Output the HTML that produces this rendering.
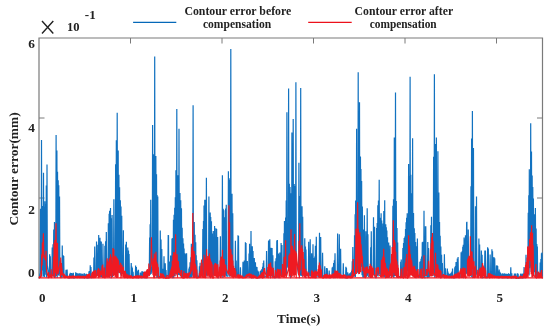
<!DOCTYPE html>
<html><head><meta charset="utf-8"><title>Contour error</title>
<style>html,body{margin:0;padding:0;background:#fff}svg{display:block}</style></head>
<body>
<svg width="550" height="331" viewBox="0 0 550 331">
<rect width="550" height="331" fill="#fff"/>
<g stroke="#7a7a7a" stroke-width="1.2" fill="none">
<path d="M39,278.4 L39,38 L542.5,38 L542.5,278.4"/>
</g><g stroke="#7a7a7a" stroke-width="1" fill="none">
<line x1="130.5" y1="38" x2="130.5" y2="43.5"/>
<line x1="222.0" y1="38" x2="222.0" y2="43.5"/>
<line x1="313.5" y1="38" x2="313.5" y2="43.5"/>
<line x1="405.0" y1="38" x2="405.0" y2="43.5"/>
<line x1="496.5" y1="38" x2="496.5" y2="43.5"/>
<line x1="39" y1="198.0" x2="44.5" y2="198.0"/>
<line x1="542.5" y1="198.0" x2="537" y2="198.0"/>
<line x1="39" y1="118.0" x2="44.5" y2="118.0"/>
<line x1="542.5" y1="118.0" x2="537" y2="118.0"/>
</g>
<path d="M39.50,278.30 L39.50,277.80 L39.80,273.45 L40.12,277.77 L40.20,273.05 L40.52,208.80 L40.84,273.67 L41.18,267.94 L41.50,140.10 L41.82,264.12 L42.25,270.48 L42.57,206.04 L42.89,273.28 L43.18,276.84 L43.50,172.70 L43.82,275.42 L43.99,276.11 L44.31,206.83 L44.63,277.10 L44.63,270.42 L44.91,201.14 L45.23,272.68 L45.25,274.82 L45.57,203.92 L45.89,272.30 L45.96,271.13 L46.28,185.48 L46.60,277.61 L46.68,268.05 L47.00,164.50 L47.32,265.35 L49.33,277.68 L49.65,254.35 L49.97,275.86 L50.00,277.43 L50.32,256.30 L50.64,275.88 L51.89,274.70 L52.21,247.44 L52.53,275.75 L52.68,273.86 L53.00,244.26 L53.32,276.68 L53.39,274.05 L53.71,229.60 L54.03,275.70 L54.16,274.28 L54.48,221.94 L54.80,278.05 L55.78,274.86 L56.10,135.10 L56.42,264.75 L56.58,273.64 L56.90,150.43 L57.22,277.97 L57.22,270.03 L57.53,171.74 L57.85,274.13 L57.87,271.75 L58.19,180.29 L58.51,272.43 L58.51,275.22 L58.78,185.34 L59.10,274.74 L59.21,275.84 L59.53,196.47 L59.85,272.41 L61.94,277.97 L62.26,245.60 L62.58,273.81 L62.66,275.52 L62.98,255.13 L63.30,275.71 L63.40,277.00 L63.72,256.02 L64.04,277.10 L65.67,277.73 L65.99,269.82 L66.31,277.41 L66.31,277.49 L66.58,270.59 L66.90,277.59 L66.90,277.49 L67.12,269.58 L67.44,277.47 L69.42,278.12 L69.74,273.89 L70.06,278.16 L70.06,278.06 L70.32,272.69 L70.64,277.70 L70.64,277.77 L70.83,273.53 L71.15,278.00 L71.15,278.23 L71.38,272.94 L71.70,278.06 L71.77,277.80 L72.09,273.40 L72.41,277.94 L72.41,277.99 L72.71,274.09 L73.03,278.24 L73.03,277.99 L73.33,272.89 L73.65,278.17 L75.42,277.77 L75.74,272.28 L76.06,277.78 L76.07,277.72 L76.39,272.97 L76.71,278.01 L76.75,277.88 L77.07,274.56 L77.39,277.93 L77.39,277.98 L77.61,273.35 L77.93,277.75 L78.03,277.78 L78.35,273.59 L78.67,277.75 L78.67,277.89 L78.90,273.62 L79.22,277.76 L79.22,277.77 L79.51,273.33 L79.83,278.19 L79.90,277.90 L80.22,274.78 L80.54,278.09 L80.59,277.92 L80.91,273.39 L81.23,277.79 L81.23,277.92 L81.52,274.70 L81.84,277.73 L81.96,278.18 L82.28,274.12 L82.60,278.04 L82.75,277.70 L83.07,273.64 L83.39,278.07 L83.44,277.99 L83.76,275.19 L84.08,278.20 L84.23,278.08 L84.55,273.33 L84.87,278.23 L84.90,278.05 L85.22,274.23 L85.54,277.71 L85.54,278.21 L85.79,275.01 L86.11,278.06 L86.14,277.96 L86.46,273.86 L86.78,277.83 L88.67,277.90 L88.99,271.29 L89.31,278.05 L89.33,278.27 L89.65,271.04 L89.97,277.26 L89.97,277.21 L90.25,265.36 L90.57,277.73 L90.62,278.05 L90.94,267.11 L91.26,277.92 L93.61,276.35 L93.93,257.58 L94.25,277.27 L94.41,277.43 L94.73,246.44 L95.05,277.74 L96.22,274.27 L96.54,241.61 L96.86,274.37 L96.93,276.07 L97.25,244.84 L97.57,274.38 L98.38,275.72 L98.70,235.00 L99.02,276.41 L99.66,273.64 L99.98,237.65 L100.30,276.35 L100.44,277.06 L100.76,241.28 L101.08,274.00 L101.08,276.91 L101.30,241.75 L101.62,274.96 L102.61,277.80 L102.93,243.80 L103.25,274.76 L104.58,275.54 L104.90,245.87 L105.22,277.16 L105.25,275.07 L105.57,241.22 L105.89,276.64 L106.00,273.39 L106.32,232.00 L106.64,275.74 L108.02,276.38 L108.34,223.16 L108.66,273.83 L108.81,275.20 L109.13,213.77 L109.45,277.27 L109.45,277.64 L109.63,210.73 L109.95,275.80 L110.18,272.03 L110.50,207.90 L110.82,273.10 L111.22,278.23 L111.54,218.20 L111.86,272.90 L111.86,276.44 L112.09,215.04 L112.41,276.89 L113.55,270.23 L113.87,199.35 L114.19,268.91 L115.31,273.10 L115.63,164.32 L115.95,266.62 L116.02,264.24 L116.34,140.27 L116.66,269.97 L116.88,266.58 L117.20,112.80 L117.52,262.66 L117.88,270.05 L118.20,150.55 L118.52,272.68 L118.60,265.83 L118.92,174.78 L119.24,273.19 L119.27,269.47 L119.59,187.30 L119.91,271.09 L120.03,271.64 L120.35,200.17 L120.67,274.40 L120.68,274.39 L121.00,206.51 L121.32,275.40 L121.43,271.23 L121.75,215.72 L122.07,273.03 L123.05,273.53 L123.37,230.31 L123.69,274.84 L125.38,273.85 L125.70,244.46 L126.02,274.17 L126.05,277.13 L126.37,241.87 L126.69,277.98 L126.85,277.35 L127.17,254.00 L127.49,275.63 L127.49,277.51 L127.78,247.40 L128.10,276.42 L128.19,276.99 L128.51,250.56 L128.83,276.49 L128.83,276.59 L129.09,254.08 L129.41,276.65 L130.92,276.91 L131.24,262.90 L131.56,276.94 L131.56,277.32 L131.81,266.62 L132.13,277.68 L132.13,276.89 L132.33,267.82 L132.65,277.40 L132.75,277.76 L133.07,271.71 L133.39,277.39 L135.31,277.12 L135.63,265.46 L135.95,277.50 L136.08,277.93 L136.40,267.06 L136.72,277.58 L136.72,278.24 L136.92,270.58 L137.24,277.63 L137.33,277.57 L137.65,271.37 L137.97,277.26 L138.11,278.02 L138.43,269.78 L138.75,277.36 L140.07,277.76 L140.39,272.60 L140.71,277.55 L140.85,277.45 L141.17,273.32 L141.49,277.43 L141.52,278.24 L141.84,271.36 L142.16,278.24 L142.21,277.48 L142.53,271.30 L142.85,278.22 L142.86,277.72 L143.18,273.30 L143.50,277.89 L143.52,278.00 L143.84,271.78 L144.16,278.09 L144.30,277.69 L144.62,273.57 L144.94,278.28 L145.09,278.06 L145.41,271.88 L145.73,278.27 L145.73,277.61 L145.94,273.13 L146.26,278.00 L146.28,278.00 L146.60,272.53 L146.92,278.01 L149.30,272.30 L149.62,237.51 L149.94,275.08 L149.94,271.38 L150.12,224.35 L150.44,274.26 L150.44,271.41 L150.72,199.68 L151.04,273.88 L152.28,267.17 L152.60,125.10 L152.92,260.09 L153.22,272.97 L153.54,154.28 L153.86,276.88 L154.38,273.38 L154.70,56.40 L155.02,264.27 L155.53,266.26 L155.85,156.03 L156.17,264.26 L156.20,267.48 L156.52,174.16 L156.84,266.26 L156.84,277.88 L157.10,194.96 L157.42,277.66 L157.46,275.23 L157.78,196.60 L158.10,277.75 L159.95,276.19 L160.27,230.46 L160.59,272.64 L160.69,276.90 L161.01,239.57 L161.33,275.76 L161.46,277.84 L161.78,248.92 L162.10,275.19 L162.10,277.09 L162.34,269.65 L162.66,277.02 L162.70,277.75 L163.02,268.85 L163.34,278.18 L163.68,277.70 L164.00,256.30 L164.32,275.74 L164.93,276.59 L165.25,263.29 L165.57,276.62 L165.71,278.07 L166.03,269.96 L166.35,277.01 L167.88,275.02 L168.20,235.00 L168.52,277.21 L168.52,276.52 L168.52,235.30 L168.72,277.47 L169.56,278.11 L169.88,261.44 L170.20,277.93 L170.31,276.36 L170.63,255.44 L170.95,276.69 L171.00,277.44 L171.32,256.11 L171.64,276.08 L171.68,275.82 L172.00,238.39 L172.32,274.16 L172.43,278.24 L172.75,238.05 L173.07,276.73 L173.14,277.96 L173.46,219.79 L173.78,278.23 L173.78,277.93 L174.06,214.78 L174.38,276.05 L174.38,275.61 L174.70,207.81 L175.02,275.84 L175.02,274.41 L175.32,197.25 L175.64,271.11 L175.64,269.81 L175.91,170.23 L176.23,273.56 L176.48,272.47 L176.80,109.00 L177.12,275.59 L177.56,267.36 L177.88,175.20 L178.20,265.55 L178.68,274.97 L179.00,128.80 L179.32,261.56 L179.65,275.11 L179.97,192.91 L180.29,275.21 L180.40,276.47 L180.72,200.20 L181.04,273.94 L181.14,270.23 L181.46,208.14 L181.78,274.10 L181.86,273.51 L182.18,227.68 L182.50,274.70 L182.60,277.42 L182.92,238.35 L183.24,274.42 L183.24,276.20 L183.55,243.42 L183.87,278.01 L183.87,276.46 L184.08,248.39 L184.40,275.11 L184.40,277.08 L184.60,253.21 L184.92,277.55 L184.92,274.93 L185.15,254.67 L185.47,277.70 L185.60,277.42 L185.92,253.46 L186.24,278.08 L186.27,275.46 L186.59,253.35 L186.91,275.60 L188.57,277.11 L188.89,268.40 L189.21,277.24 L189.21,277.59 L189.45,266.77 L189.77,277.34 L189.77,278.27 L190.05,262.30 L190.37,277.78 L190.50,276.61 L190.82,257.38 L191.14,276.92 L191.14,274.91 L191.35,243.76 L191.67,277.67 L192.78,273.22 L193.10,105.30 L193.42,272.23 L193.95,277.70 L194.27,221.98 L194.59,272.33 L194.70,274.71 L195.02,234.78 L195.34,277.67 L195.39,275.89 L195.71,242.26 L196.03,274.38 L196.03,277.08 L196.24,255.31 L196.56,278.20 L196.56,276.06 L196.88,260.35 L197.20,275.88 L199.09,276.86 L199.41,266.21 L199.73,276.70 L199.79,277.16 L200.11,262.86 L200.43,277.26 L202.52,273.72 L202.84,229.05 L203.16,274.81 L203.17,274.29 L203.49,220.97 L203.81,271.76 L203.81,276.71 L204.00,205.49 L204.32,269.65 L204.44,275.66 L204.76,199.84 L205.08,272.40 L205.10,277.45 L205.42,199.85 L205.74,277.42 L206.08,270.83 L206.40,177.80 L206.72,275.59 L208.58,270.80 L208.90,196.60 L209.22,272.73 L209.90,277.37 L210.22,212.60 L210.54,277.57 L210.54,275.01 L210.73,216.94 L211.05,277.60 L211.13,273.50 L211.45,221.25 L211.77,276.95 L211.77,272.07 L212.03,233.60 L212.35,271.99 L212.35,275.86 L212.63,235.31 L212.95,273.83 L212.95,276.45 L213.27,230.95 L213.59,274.74 L214.28,274.57 L214.60,226.00 L214.92,272.79 L215.64,273.57 L215.96,228.20 L216.28,272.49 L216.31,275.48 L216.63,228.88 L216.95,274.40 L216.95,277.25 L217.17,239.55 L217.49,273.42 L217.49,273.63 L217.67,236.93 L217.99,278.16 L220.07,273.34 L220.39,236.37 L220.71,275.22 L222.08,273.13 L222.40,175.20 L222.72,276.21 L222.93,277.97 L223.25,208.65 L223.57,275.48 L223.57,273.19 L223.81,210.17 L224.13,272.83 L224.16,270.75 L224.48,219.53 L224.80,272.93 L224.80,275.15 L225.04,217.32 L225.36,270.65 L225.36,270.74 L225.62,208.54 L225.94,275.67 L225.94,271.93 L226.26,204.67 L226.58,276.09 L228.08,276.15 L228.40,171.30 L228.72,271.77 L229.04,269.53 L229.36,180.01 L229.68,276.79 L229.68,272.00 L229.87,178.15 L230.19,265.87 L230.48,263.08 L230.80,49.10 L231.12,275.97 L231.69,269.54 L232.01,193.66 L232.33,271.06 L232.43,275.36 L232.75,213.25 L233.07,273.58 L235.09,275.22 L235.41,240.64 L235.73,277.10 L235.88,277.72 L236.20,260.62 L236.52,276.34 L237.68,273.21 L238.00,235.30 L238.32,277.96 L238.32,274.68 L238.50,236.00 L238.82,276.62 L240.12,277.89 L240.44,267.15 L240.76,277.25 L242.67,277.67 L242.99,261.85 L243.31,276.37 L243.38,276.77 L243.70,263.81 L244.02,277.77 L244.02,276.04 L244.30,260.42 L244.62,276.04 L245.08,277.39 L245.40,242.30 L245.72,274.71 L245.72,277.29 L246.00,243.10 L246.32,275.63 L247.02,276.39 L247.34,260.93 L247.66,277.30 L248.72,274.96 L249.04,253.41 L249.36,276.13 L249.36,277.76 L249.57,243.71 L249.89,277.86 L250.68,277.32 L251.00,231.00 L251.32,277.58 L251.99,278.12 L252.31,246.38 L252.63,277.17 L252.71,274.17 L253.03,251.06 L253.35,275.73 L253.35,278.17 L253.66,261.17 L253.98,275.49 L253.99,276.24 L254.31,257.92 L254.63,276.21 L254.63,277.29 L254.93,264.82 L255.25,276.25 L255.25,276.43 L255.44,262.27 L255.76,277.06 L255.76,278.24 L255.98,268.38 L256.30,276.99 L256.30,277.50 L256.48,266.67 L256.80,277.88 L256.80,277.94 L256.98,266.97 L257.30,277.98 L257.43,277.66 L257.75,270.41 L258.07,278.19 L258.21,277.71 L258.53,271.42 L258.85,277.49 L260.04,277.90 L260.36,271.05 L260.68,277.32 L260.73,277.39 L261.05,270.19 L261.37,277.39 L261.53,278.04 L261.85,269.01 L262.17,277.55 L262.25,277.15 L262.57,266.66 L262.89,277.94 L262.89,276.52 L263.19,262.89 L263.51,276.55 L263.51,276.22 L263.74,260.63 L264.06,277.45 L266.24,276.34 L266.56,250.89 L266.88,276.97 L268.23,273.81 L268.55,240.59 L268.87,276.19 L269.48,274.86 L269.80,239.30 L270.12,275.30 L270.61,278.08 L270.93,247.72 L271.25,274.25 L271.27,276.06 L271.59,253.12 L271.91,274.39 L271.91,276.03 L272.09,248.06 L272.41,276.80 L272.54,277.32 L272.86,255.21 L273.18,275.64 L274.92,278.21 L275.24,261.33 L275.56,278.20 L275.68,277.34 L276.00,258.33 L276.32,275.97 L276.48,277.80 L276.80,240.50 L277.12,275.36 L277.12,275.87 L277.40,239.90 L277.72,276.67 L278.17,277.63 L278.49,253.63 L278.81,278.17 L278.95,276.12 L279.27,255.45 L279.59,276.82 L279.59,277.89 L279.84,252.63 L280.16,274.80 L280.78,274.72 L281.10,243.10 L281.42,275.52 L281.62,276.53 L281.94,244.96 L282.26,276.25 L283.57,272.51 L283.89,233.20 L284.21,275.10 L284.21,271.79 L284.44,220.97 L284.76,271.24 L284.76,272.73 L285.06,222.16 L285.38,275.68 L285.38,271.18 L285.62,217.47 L285.94,273.60 L285.94,269.56 L286.19,200.40 L286.51,269.99 L286.58,275.70 L286.90,112.30 L287.22,267.62 L288.28,257.78 L288.60,88.50 L288.92,260.74 L289.04,266.93 L289.36,183.79 L289.68,275.38 L289.72,267.65 L290.04,186.91 L290.36,269.27 L290.49,278.17 L290.81,193.16 L291.13,274.06 L291.58,274.18 L291.90,132.60 L292.22,273.13 L292.88,264.20 L293.20,119.10 L293.52,264.47 L293.86,274.04 L294.18,184.04 L294.50,271.49 L294.59,271.96 L294.91,185.89 L295.23,271.22 L295.58,268.99 L295.90,82.20 L296.22,260.14 L298.58,274.82 L298.90,162.70 L299.22,269.20 L299.41,278.26 L299.73,195.95 L300.05,270.41 L300.38,275.81 L300.70,88.00 L301.02,265.88 L301.73,276.05 L302.05,206.25 L302.37,269.83 L302.37,276.43 L302.69,216.71 L303.01,272.10 L304.44,275.62 L304.76,238.37 L305.08,277.84 L305.15,277.21 L305.47,246.47 L305.79,275.49 L305.79,276.13 L306.00,249.54 L306.32,275.58 L308.38,274.74 L308.70,241.80 L309.02,274.76 L309.88,275.40 L310.20,239.30 L310.52,276.19 L311.31,275.45 L311.63,253.17 L311.95,276.01 L312.68,277.55 L313.00,244.30 L313.32,275.99 L313.95,277.80 L314.27,257.95 L314.59,275.49 L314.59,276.63 L314.83,256.60 L315.15,278.17 L315.15,274.65 L315.41,245.77 L315.73,278.13 L315.98,276.44 L316.30,236.80 L316.62,275.22 L319.18,277.22 L319.50,232.63 L319.82,272.92 L320.37,275.59 L320.69,237.02 L321.01,275.20 L322.26,276.83 L322.58,252.76 L322.90,276.75 L324.43,277.11 L324.75,266.19 L325.07,277.42 L326.20,277.61 L326.52,267.94 L326.84,277.50 L326.94,278.03 L327.26,268.20 L327.58,277.13 L328.88,277.19 L329.20,270.42 L329.52,278.05 L331.86,277.01 L332.18,267.57 L332.50,277.43 L332.53,277.58 L332.85,266.89 L333.17,277.11 L333.28,277.77 L333.60,262.91 L333.92,276.17 L334.05,278.26 L334.37,260.26 L334.69,277.64 L334.70,275.97 L335.02,253.29 L335.34,278.05 L337.28,272.93 L337.60,233.50 L337.92,276.21 L338.98,273.52 L339.30,234.30 L339.62,277.30 L340.29,275.06 L340.61,248.86 L340.93,276.02 L342.98,277.27 L343.30,263.23 L343.62,277.15 L345.55,278.00 L345.87,266.76 L346.19,278.13 L346.19,278.23 L346.43,267.78 L346.75,277.58 L346.83,277.93 L347.15,272.20 L347.47,278.22 L347.51,277.83 L347.83,272.43 L348.15,277.97 L348.23,277.68 L348.55,274.34 L348.87,277.73 L348.87,278.02 L349.18,274.39 L349.50,277.89 L349.50,277.71 L349.70,273.30 L350.02,278.20 L350.02,277.82 L350.25,274.94 L350.57,277.82 L350.57,278.13 L350.84,272.18 L351.16,277.97 L351.30,277.73 L351.62,270.74 L351.94,277.12 L351.96,276.95 L352.28,261.26 L352.60,276.16 L352.60,278.10 L352.81,247.02 L353.13,276.28 L354.21,275.43 L354.53,235.31 L354.85,276.76 L354.85,273.13 L355.11,214.28 L355.43,273.03 L355.43,276.94 L355.64,200.46 L355.96,270.09 L356.28,263.47 L356.60,128.80 L356.92,266.70 L357.88,273.23 L358.20,72.20 L358.52,271.83 L359.18,269.46 L359.50,102.30 L359.82,266.86 L360.14,271.25 L360.46,156.40 L360.78,265.63 L360.78,266.66 L360.97,169.03 L361.29,265.79 L361.32,266.57 L361.64,181.08 L361.96,270.92 L362.04,275.36 L362.36,206.44 L362.68,272.02 L362.84,277.51 L363.16,229.61 L363.48,277.54 L363.48,277.20 L363.66,232.18 L363.98,276.17 L364.08,277.97 L364.40,215.30 L364.72,276.53 L365.49,274.74 L365.81,231.31 L366.13,277.24 L366.88,273.91 L367.20,208.30 L367.52,270.37 L367.61,275.78 L367.93,234.20 L368.25,276.48 L370.38,277.21 L370.70,247.26 L371.02,277.15 L371.02,273.39 L371.27,231.18 L371.59,275.76 L373.18,274.19 L373.50,217.30 L373.82,272.91 L374.23,275.09 L374.55,226.81 L374.87,276.98 L376.26,278.08 L376.58,228.06 L376.90,271.58 L376.90,271.97 L377.18,223.01 L377.50,273.90 L377.50,275.66 L377.81,205.31 L378.13,273.55 L378.13,276.38 L378.44,200.59 L378.76,272.99 L378.88,274.24 L379.20,179.80 L379.52,269.20 L380.15,274.79 L380.47,217.71 L380.79,276.61 L380.79,276.74 L381.11,213.22 L381.43,276.17 L381.43,271.70 L381.74,220.57 L382.06,277.33 L382.06,273.14 L382.28,226.48 L382.60,272.69 L382.74,274.98 L383.06,223.44 L383.38,274.06 L383.47,273.78 L383.79,211.08 L384.11,275.67 L384.38,277.31 L384.70,200.30 L385.02,275.63 L385.42,273.53 L385.74,224.15 L386.06,272.34 L386.06,276.77 L386.30,227.35 L386.62,274.15 L386.62,278.12 L386.87,230.56 L387.19,272.94 L387.21,276.06 L387.53,237.21 L387.85,274.40 L387.90,277.95 L388.22,248.37 L388.54,277.48 L388.54,277.19 L388.72,242.61 L389.04,276.08 L389.04,274.62 L389.25,249.77 L389.57,275.73 L389.71,277.54 L390.03,245.54 L390.35,275.29 L392.55,273.53 L392.87,205.78 L393.19,271.68 L393.19,276.63 L393.50,199.33 L393.82,277.92 L393.98,275.81 L394.30,137.60 L394.62,263.92 L395.18,275.97 L395.50,92.50 L395.82,273.31 L395.98,272.03 L396.30,201.08 L396.62,276.15 L396.69,277.41 L397.01,227.96 L397.33,275.89 L397.34,276.12 L397.66,242.59 L397.98,276.35 L400.39,276.74 L400.71,261.67 L401.03,278.02 L401.03,277.63 L401.24,259.46 L401.56,277.56 L402.54,276.09 L402.86,248.09 L403.18,277.49 L403.21,276.74 L403.53,243.08 L403.85,275.06 L403.86,274.10 L404.18,237.92 L404.50,275.69 L404.57,276.91 L404.89,236.46 L405.21,277.28 L405.21,272.06 L405.51,228.90 L405.83,277.46 L405.83,272.75 L406.07,222.16 L406.39,273.69 L406.39,275.96 L406.62,217.85 L406.94,275.18 L406.94,272.23 L407.19,213.16 L407.51,271.07 L408.28,268.95 L408.60,163.90 L408.92,275.05 L409.07,267.82 L409.39,176.36 L409.71,274.18 L409.78,270.92 L410.10,76.70 L410.42,256.98 L410.49,270.39 L410.81,174.68 L411.13,274.83 L411.13,274.28 L411.42,193.19 L411.74,270.21 L412.28,275.07 L412.60,138.30 L412.92,270.21 L413.22,274.81 L413.54,212.99 L413.86,276.88 L413.97,273.23 L414.29,228.16 L414.61,276.41 L414.61,273.04 L414.85,232.90 L415.17,273.21 L415.30,275.29 L415.62,242.10 L415.94,274.13 L416.08,278.29 L416.40,246.26 L416.72,276.33 L417.08,275.62 L417.40,238.53 L417.72,274.80 L419.55,277.51 L419.87,261.86 L420.19,277.74 L420.19,277.18 L420.47,261.19 L420.79,276.82 L420.79,276.67 L421.03,258.77 L421.35,276.77 L421.35,278.29 L421.57,256.54 L421.89,277.75 L421.96,277.64 L422.28,242.33 L422.60,275.60 L422.60,275.80 L422.86,241.67 L423.18,276.70 L423.68,273.01 L424.00,210.80 L424.32,276.76 L425.08,278.26 L425.40,226.30 L425.72,273.71 L425.72,275.53 L425.80,226.30 L426.12,273.95 L427.46,278.02 L427.78,241.91 L428.10,276.62 L428.23,277.86 L428.55,248.03 L428.87,277.46 L430.52,274.10 L430.84,225.27 L431.16,273.22 L431.17,273.65 L431.49,216.65 L431.81,275.42 L433.28,275.17 L433.60,156.74 L433.92,270.17 L434.08,274.08 L434.40,74.20 L434.72,277.84 L435.21,275.23 L435.53,143.95 L435.85,267.67 L436.08,269.24 L436.40,137.60 L436.72,265.22 L437.58,272.31 L437.90,151.30 L438.22,263.22 L438.53,273.18 L438.85,192.38 L439.17,270.29 L439.22,275.64 L439.54,222.10 L439.86,274.71 L439.86,276.26 L440.18,235.80 L440.50,278.14 L440.54,277.15 L440.86,246.40 L441.18,276.10 L441.26,276.73 L441.58,254.74 L441.90,277.47 L442.04,276.74 L442.36,263.10 L442.68,277.36 L444.08,276.39 L444.40,254.30 L444.72,277.61 L445.13,277.85 L445.45,268.20 L445.77,276.55 L447.03,277.69 L447.35,268.47 L447.67,277.30 L447.67,277.55 L447.88,271.41 L448.20,277.83 L448.20,277.57 L448.39,273.29 L448.71,277.95 L448.71,278.26 L448.91,273.99 L449.23,278.07 L449.29,277.76 L449.61,273.87 L449.93,278.23 L449.93,277.97 L450.17,274.46 L450.49,277.94 L450.49,278.21 L450.77,273.31 L451.09,278.13 L451.10,277.84 L451.42,272.51 L451.74,277.70 L451.74,277.78 L451.93,271.46 L452.25,277.71 L452.25,277.84 L452.53,268.42 L452.85,277.58 L454.46,277.94 L454.78,267.16 L455.10,277.72 L455.10,277.66 L455.42,266.07 L455.74,278.21 L455.74,277.92 L456.03,262.12 L456.35,277.32 L456.38,276.37 L456.70,263.05 L457.02,276.32 L457.02,276.42 L457.30,258.57 L457.62,277.60 L457.76,277.50 L458.08,257.11 L458.40,277.17 L460.78,277.27 L461.10,252.22 L461.42,277.91 L461.42,276.57 L461.72,257.92 L462.04,275.13 L462.04,276.48 L462.23,251.10 L462.55,275.29 L462.55,276.98 L462.74,246.80 L463.06,276.03 L463.06,276.85 L463.30,244.79 L463.62,278.24 L463.77,274.26 L464.09,237.41 L464.41,273.59 L464.41,277.60 L464.73,239.57 L465.05,274.30 L465.14,274.02 L465.46,235.15 L465.78,273.43 L466.28,271.93 L466.60,222.30 L466.92,273.90 L466.92,272.50 L466.92,221.70 L467.02,273.26 L467.95,272.53 L468.27,229.45 L468.59,272.09 L470.64,273.53 L470.96,186.36 L471.28,277.29 L471.28,268.53 L471.60,138.39 L471.92,268.47 L472.08,261.74 L472.40,111.10 L472.72,277.66 L473.14,277.71 L473.46,148.06 L473.78,266.51 L475.18,272.38 L475.50,206.17 L475.82,274.85 L476.18,275.60 L476.50,196.60 L476.82,273.31 L478.58,274.94 L478.90,238.40 L479.22,274.36 L479.31,274.05 L479.63,244.63 L479.95,275.06 L481.04,275.98 L481.36,250.39 L481.68,276.37 L481.78,277.28 L482.10,254.86 L482.42,277.90 L484.53,276.97 L484.85,250.39 L485.17,275.38 L485.17,276.13 L485.41,250.50 L485.73,276.14 L487.29,278.10 L487.61,247.25 L487.93,275.32 L487.99,276.81 L488.31,248.45 L488.63,276.89 L489.82,278.01 L490.14,254.59 L490.46,276.44 L491.59,274.88 L491.91,249.31 L492.23,276.22 L492.23,277.79 L492.53,251.20 L492.85,275.87 L492.88,277.25 L493.20,257.94 L493.52,275.76 L493.63,275.73 L493.95,256.92 L494.27,276.41 L494.40,275.67 L494.72,258.32 L495.04,277.54 L496.11,276.82 L496.43,265.58 L496.75,276.62 L496.75,276.78 L497.03,265.32 L497.35,277.03 L497.36,277.39 L497.68,266.13 L498.00,277.89 L498.13,278.06 L498.45,271.37 L498.77,277.95 L498.89,277.83 L499.21,269.60 L499.53,277.72 L499.53,277.48 L499.79,271.88 L500.11,277.98 L500.14,277.67 L500.46,272.78 L500.78,277.87 L500.84,278.13 L501.16,274.27 L501.48,278.01 L501.48,278.22 L501.69,274.19 L502.01,278.28 L502.01,278.01 L502.26,273.36 L502.58,278.29 L502.61,278.24 L502.93,274.21 L503.25,278.15 L503.25,278.23 L503.45,273.79 L503.77,278.14 L503.92,277.71 L504.24,273.30 L504.56,277.93 L504.56,278.28 L504.82,273.70 L505.14,278.07 L505.14,277.74 L505.42,273.84 L505.74,278.13 L505.90,277.85 L506.22,273.67 L506.54,278.17 L506.60,277.83 L506.92,273.92 L507.24,278.24 L507.33,278.28 L507.65,274.16 L507.97,278.30 L508.10,278.01 L508.42,273.32 L508.74,277.74 L508.83,278.25 L509.15,273.75 L509.47,277.78 L509.47,278.11 L509.71,273.97 L510.03,277.72 L510.48,277.06 L510.80,267.30 L511.12,277.96 L511.47,277.93 L511.79,273.24 L512.11,277.77 L514.11,277.95 L514.43,273.64 L514.75,278.20 L514.75,277.84 L515.06,273.44 L515.38,278.21 L515.40,277.89 L515.72,273.53 L516.04,278.29 L517.20,278.13 L517.52,273.31 L517.84,278.10 L517.84,277.82 L518.13,273.68 L518.45,278.28 L520.31,277.92 L520.63,273.67 L520.95,278.21 L521.00,277.91 L521.32,274.80 L521.64,278.23 L521.75,277.85 L522.07,273.46 L522.39,278.06 L522.39,277.75 L522.58,273.74 L522.90,278.21 L522.95,278.26 L523.27,273.72 L523.59,278.22 L523.74,277.17 L524.06,267.01 L524.38,277.66 L525.69,277.72 L526.01,254.85 L526.33,277.74 L527.92,272.10 L528.24,212.66 L528.56,274.43 L528.56,271.14 L528.77,195.17 L529.09,275.60 L529.09,273.35 L529.31,169.19 L529.63,268.30 L530.38,260.85 L530.70,123.30 L531.02,262.27 L531.17,271.95 L531.49,151.50 L531.81,268.88 L531.86,273.31 L532.18,175.47 L532.50,277.00 L532.50,277.27 L532.78,186.94 L533.10,268.22 L533.10,270.88 L533.41,198.58 L533.73,273.21 L533.87,274.95 L534.19,214.27 L534.51,271.54 L535.08,271.66 L535.40,207.90 L535.72,276.99 L535.82,276.16 L536.14,228.39 L536.46,276.04 L536.50,278.11 L536.82,244.01 L537.14,275.25 L537.14,276.67 L537.34,246.40 L537.66,276.53 L539.88,277.53 L540.20,262.57 L540.52,277.94 L540.54,277.01 L540.86,258.95 L541.18,276.91 L541.18,277.60 L541.45,253.28 L541.77,277.43 L541.77,277.70 L542.08,252.63 L542.40,276.13" fill="none" stroke="#1272c0" stroke-width="1.2" stroke-linejoin="bevel"/>
<path d="M39.50,278.30 L39.50,278.21 L39.80,276.13 L40.18,277.99 L40.18,277.18 L40.36,276.76 L40.74,277.70 L40.74,277.82 L41.04,270.71 L41.42,276.75 L41.42,267.33 L41.69,254.16 L42.07,262.93 L42.07,265.54 L42.42,242.39 L42.80,258.13 L43.02,244.09 L43.40,233.30 L43.78,254.26 L45.65,260.43 L46.03,250.71 L46.41,269.69 L48.33,278.10 L48.71,272.03 L49.09,277.84 L49.09,276.26 L49.41,274.88 L49.79,276.83 L49.79,276.66 L49.98,275.13 L50.36,276.55 L50.36,276.92 L50.55,274.30 L50.93,276.20 L50.93,277.75 L51.13,269.17 L51.51,278.01 L53.15,273.88 L53.53,256.77 L53.91,276.69 L53.91,273.06 L54.11,242.77 L54.49,277.92 L54.49,276.98 L54.76,240.03 L55.14,273.34 L55.62,253.15 L56.00,223.30 L56.38,257.11 L56.38,276.33 L56.73,242.70 L57.11,271.78 L57.11,274.08 L57.46,242.93 L57.84,274.28 L59.63,265.22 L60.01,260.58 L60.39,267.21 L60.39,278.12 L60.71,257.61 L61.09,275.55 L61.09,268.27 L61.36,262.98 L61.74,267.87 L61.74,275.31 L62.04,268.73 L62.42,275.05 L62.44,275.59 L62.82,272.91 L63.20,274.61 L63.28,277.49 L63.66,274.72 L64.04,277.57 L64.04,277.79 L64.23,273.89 L64.61,278.00 L64.66,278.11 L65.04,275.06 L65.42,277.75 L65.42,277.83 L65.60,276.26 L65.98,277.92 L65.98,276.77 L66.17,276.03 L66.55,277.42 L66.63,276.69 L67.01,276.12 L67.39,277.44 L67.39,278.26 L67.74,276.31 L68.12,278.25 L68.12,278.26 L68.34,276.54 L68.72,278.02 L68.72,276.39 L69.05,275.67 L69.43,276.64 L69.43,278.13 L69.61,275.47 L69.99,277.88 L69.99,277.16 L70.29,276.63 L70.67,277.25 L70.67,278.13 L70.94,275.82 L71.32,278.28 L71.32,277.91 L71.61,276.27 L71.99,278.08 L72.00,278.20 L72.38,275.60 L72.76,278.25 L72.76,278.14 L72.93,275.66 L73.31,278.01 L73.31,276.24 L73.56,275.66 L73.94,277.39 L73.94,276.49 L74.12,275.86 L74.50,276.53 L74.50,276.79 L74.79,276.15 L75.17,277.58 L75.17,277.91 L75.46,276.01 L75.84,277.92 L75.84,278.10 L76.18,276.49 L76.56,278.08 L76.56,277.43 L76.76,276.12 L77.14,276.88 L77.14,278.00 L77.32,276.52 L77.70,278.08 L77.70,277.33 L78.07,275.72 L78.45,276.62 L78.45,278.24 L78.74,275.84 L79.12,278.21 L79.12,277.92 L79.49,275.92 L79.87,278.25 L79.93,277.96 L80.31,275.85 L80.69,277.93 L80.69,277.41 L80.90,276.09 L81.28,276.75 L81.29,278.03 L81.67,276.65 L82.05,277.96 L82.05,278.08 L82.39,275.82 L82.77,277.94 L82.83,277.45 L83.21,275.88 L83.59,277.23 L83.59,278.07 L83.87,275.71 L84.25,278.13 L84.31,278.00 L84.69,276.23 L85.07,278.12 L85.07,278.00 L85.40,276.32 L85.78,277.98 L85.82,276.78 L86.20,276.01 L86.58,277.60 L86.58,278.28 L86.80,274.82 L87.18,278.28 L87.18,277.85 L87.50,274.23 L87.88,278.18 L87.88,278.08 L88.26,274.10 L88.64,277.77 L88.64,275.08 L88.86,274.21 L89.24,276.85 L89.24,278.11 L89.50,273.43 L89.88,277.55 L91.56,276.35 L91.94,273.03 L92.32,274.13 L92.32,278.16 L92.55,272.04 L92.93,277.77 L92.93,278.29 L93.18,270.91 L93.56,278.25 L93.56,277.39 L93.82,273.10 L94.20,277.67 L94.20,278.04 L94.53,270.30 L94.91,278.23 L95.00,277.56 L95.38,270.36 L95.76,277.25 L96.85,275.60 L97.23,269.87 L97.61,274.94 L97.61,274.32 L97.83,271.87 L98.21,274.97 L98.21,277.37 L98.44,268.13 L98.82,278.20 L98.82,274.64 L99.19,269.40 L99.57,273.10 L99.57,276.77 L99.75,269.46 L100.13,277.11 L100.13,272.35 L100.51,270.79 L100.89,275.32 L101.67,273.74 L102.05,265.60 L102.43,270.52 L102.43,277.06 L102.78,264.52 L103.16,277.67 L104.00,276.82 L104.38,267.41 L104.76,278.12 L106.09,275.74 L106.47,265.55 L106.85,277.83 L106.85,264.51 L107.08,258.36 L107.46,264.11 L107.46,275.89 L107.76,264.40 L108.14,277.84 L108.14,267.28 L108.40,261.61 L108.78,270.27 L108.85,277.03 L109.23,258.68 L109.61,277.35 L109.61,276.96 L109.85,257.84 L110.23,275.40 L110.23,275.12 L110.53,254.35 L110.91,276.12 L110.91,276.20 L111.24,256.80 L111.62,277.81 L112.60,266.84 L112.98,247.96 L113.36,260.02 L113.37,276.24 L113.75,248.97 L114.13,274.67 L114.15,274.84 L114.53,257.06 L114.91,274.96 L114.99,276.69 L115.37,255.80 L115.75,277.11 L115.75,277.09 L116.06,256.51 L116.44,277.89 L116.49,268.43 L116.87,257.83 L117.25,271.06 L117.29,278.07 L117.67,258.88 L118.05,277.49 L118.06,267.79 L118.44,260.24 L118.82,265.55 L119.60,272.99 L119.98,265.01 L120.36,270.61 L120.36,271.87 L120.56,262.85 L120.94,266.21 L120.94,278.20 L121.19,268.12 L121.57,276.43 L121.57,272.56 L121.86,264.71 L122.24,273.19 L122.24,272.43 L122.58,269.60 L122.96,275.07 L122.96,277.25 L123.34,266.88 L123.72,277.38 L123.72,277.34 L124.04,270.90 L124.42,278.21 L124.42,277.13 L124.59,271.01 L124.97,278.15 L124.97,278.29 L125.31,270.87 L125.69,277.23 L125.69,277.94 L126.07,273.41 L126.45,277.55 L126.51,277.61 L126.89,274.82 L127.27,278.18 L127.31,278.07 L127.69,274.29 L128.07,277.96 L128.07,278.07 L128.34,275.40 L128.72,278.22 L128.77,276.39 L129.15,275.60 L129.53,276.42 L129.53,278.00 L129.81,275.41 L130.19,278.11 L130.22,278.26 L130.60,275.32 L130.98,277.99 L130.98,278.18 L131.21,275.32 L131.59,278.12 L131.62,278.04 L132.00,276.50 L132.38,277.99 L133.28,278.24 L133.66,276.17 L134.04,278.09 L134.04,278.19 L134.28,276.22 L134.66,277.91 L134.66,277.50 L135.04,275.86 L135.42,276.66 L135.44,278.18 L135.82,275.62 L136.20,278.27 L136.20,278.28 L136.44,275.43 L136.82,278.13 L136.82,278.22 L137.12,275.43 L137.50,277.92 L137.50,278.00 L137.86,275.37 L138.24,278.06 L138.29,278.01 L138.67,276.42 L139.05,277.91 L139.05,277.86 L139.27,275.42 L139.65,277.96 L139.65,277.92 L139.96,276.00 L140.34,277.92 L140.34,277.99 L140.72,275.63 L141.10,277.95 L141.10,278.24 L141.34,275.64 L141.72,277.98 L141.74,276.68 L142.12,276.07 L142.50,277.45 L142.54,277.00 L142.92,276.21 L143.30,277.13 L143.30,277.72 L143.51,273.33 L143.89,277.63 L143.89,277.61 L144.15,272.12 L144.53,277.34 L144.53,277.65 L144.72,271.56 L145.10,278.10 L145.10,277.76 L145.40,272.26 L145.78,277.20 L145.78,277.39 L145.98,271.52 L146.36,277.81 L146.36,277.86 L146.56,270.24 L146.94,278.24 L146.94,278.04 L147.32,268.98 L147.70,277.11 L147.79,273.20 L148.17,270.55 L148.55,274.56 L148.55,275.43 L148.86,263.56 L149.24,276.29 L151.02,263.39 L151.40,237.30 L151.78,257.59 L153.09,275.30 L153.47,258.36 L153.85,278.28 L153.89,275.09 L154.27,253.40 L154.65,278.28 L154.74,265.06 L155.12,255.09 L155.50,265.77 L155.54,275.79 L155.92,251.70 L156.30,276.47 L156.31,270.69 L156.69,261.88 L157.07,269.43 L157.14,273.14 L157.52,263.87 L157.90,268.38 L157.90,276.82 L158.26,267.16 L158.64,277.79 L160.32,277.65 L160.70,273.00 L161.08,278.01 L161.08,277.82 L161.30,274.86 L161.68,277.64 L161.72,277.68 L162.10,273.56 L162.48,277.78 L162.48,276.16 L162.79,273.70 L163.17,275.48 L163.17,278.28 L163.41,274.93 L163.79,277.71 L163.79,277.77 L164.10,275.50 L164.48,277.96 L166.55,278.30 L166.93,274.96 L167.31,278.06 L168.61,278.06 L168.99,275.04 L169.37,278.20 L169.37,277.54 L169.60,273.81 L169.98,277.54 L169.98,277.59 L170.26,271.37 L170.64,277.88 L170.64,278.03 L170.85,269.22 L171.23,277.17 L171.29,272.71 L171.67,266.81 L172.05,272.29 L172.05,277.26 L172.30,260.82 L172.68,276.53 L172.68,275.68 L173.05,255.30 L173.43,276.33 L173.43,266.83 L173.72,252.09 L174.10,261.19 L174.17,272.93 L174.55,252.51 L174.93,276.39 L175.22,271.87 L175.60,234.30 L175.98,272.85 L176.75,274.28 L177.13,254.31 L177.51,277.66 L177.51,270.43 L177.85,260.88 L178.23,269.31 L178.23,266.60 L178.40,261.15 L178.78,272.87 L178.78,271.20 L179.03,267.43 L179.41,272.14 L180.67,275.73 L181.05,270.15 L181.43,275.14 L181.43,278.05 L181.62,269.91 L182.00,277.39 L183.48,278.20 L183.86,271.12 L184.24,278.11 L184.31,278.03 L184.69,273.07 L185.07,277.38 L185.07,275.68 L185.38,273.18 L185.76,274.95 L185.76,276.36 L186.02,273.29 L186.40,276.17 L186.40,277.93 L186.63,273.86 L187.01,278.13 L187.01,278.11 L187.22,273.46 L187.60,277.78 L187.60,278.29 L187.96,272.85 L188.34,278.02 L188.39,275.81 L188.77,273.25 L189.15,274.38 L189.15,276.24 L189.51,272.37 L189.89,273.73 L189.89,273.67 L190.16,271.99 L190.54,274.04 L190.58,272.35 L190.96,262.15 L191.34,271.87 L191.42,258.86 L191.80,246.75 L192.18,259.32 L192.42,270.24 L192.80,212.90 L193.18,277.73 L193.65,275.64 L194.03,251.03 L194.41,277.37 L194.41,277.97 L194.62,253.97 L195.00,276.95 L195.00,269.68 L195.33,263.70 L195.71,272.30 L195.71,272.37 L195.98,265.86 L196.36,272.35 L196.38,278.11 L196.76,269.65 L197.14,277.91 L199.06,277.37 L199.44,272.99 L199.82,277.92 L199.82,274.41 L200.18,271.02 L200.56,274.20 L200.56,277.10 L200.76,265.66 L201.14,277.77 L201.17,267.64 L201.55,259.62 L201.93,268.13 L201.93,275.96 L202.16,263.12 L202.54,277.34 L203.74,277.50 L204.12,254.85 L204.50,278.03 L204.54,277.63 L204.92,257.40 L205.30,277.93 L205.30,278.28 L205.53,260.43 L205.91,277.39 L206.22,265.91 L206.60,249.30 L206.98,263.44 L207.74,276.73 L208.12,255.95 L208.50,275.37 L208.50,271.41 L208.71,258.36 L209.09,266.71 L209.12,277.07 L209.50,253.45 L209.88,275.62 L209.88,276.33 L210.23,258.48 L210.61,277.61 L210.61,278.28 L210.86,261.35 L211.24,276.46 L211.24,273.04 L211.49,262.40 L211.87,269.99 L211.87,276.78 L212.05,264.01 L212.43,277.86 L213.68,277.79 L214.06,265.13 L214.44,276.37 L214.44,271.70 L214.78,263.55 L215.16,268.85 L215.16,276.20 L215.48,262.94 L215.86,276.80 L215.86,271.43 L216.18,263.73 L216.56,267.52 L216.60,277.17 L216.98,265.28 L217.36,277.83 L217.39,277.67 L217.77,264.19 L218.15,276.95 L219.12,274.53 L219.50,266.76 L219.88,272.91 L219.88,277.05 L220.17,260.60 L220.55,277.15 L220.55,277.91 L220.89,256.67 L221.27,277.62 L221.33,268.57 L221.71,256.43 L222.09,265.20 L222.13,276.34 L222.51,249.87 L222.89,275.56 L222.95,263.98 L223.33,258.98 L223.71,266.26 L223.79,276.93 L224.17,259.04 L224.55,276.19 L224.55,277.04 L224.73,265.61 L225.11,277.23 L225.16,273.49 L225.54,264.64 L225.92,268.23 L228.52,274.58 L228.90,205.30 L229.28,268.61 L229.28,271.92 L229.60,222.30 L229.98,276.32 L230.42,256.93 L230.80,249.04 L231.18,256.02 L231.18,277.27 L231.52,258.49 L231.90,274.78 L231.90,269.36 L232.08,254.43 L232.46,268.12 L232.48,277.51 L232.86,260.46 L233.24,276.55 L233.24,278.18 L233.61,265.81 L233.99,276.86 L233.99,277.51 L234.22,268.12 L234.60,277.21 L234.60,272.65 L234.91,267.92 L235.29,273.94 L235.29,277.52 L235.66,270.91 L236.04,277.21 L237.34,276.90 L237.72,274.33 L238.10,276.94 L238.18,278.11 L238.56,274.44 L238.94,277.83 L238.94,278.22 L239.30,275.01 L239.68,278.21 L239.68,277.83 L239.98,274.66 L240.36,278.02 L240.43,276.71 L240.81,275.84 L241.19,276.46 L241.24,277.22 L241.62,275.66 L242.00,276.27 L242.06,278.24 L242.44,275.84 L242.82,277.78 L244.94,277.55 L245.32,275.83 L245.70,276.82 L245.70,278.14 L245.92,275.78 L246.30,278.01 L246.30,275.72 L246.56,274.70 L246.94,275.59 L246.94,275.96 L247.27,274.30 L247.65,275.90 L247.72,276.67 L248.10,273.90 L248.48,276.28 L248.55,276.07 L248.93,273.64 L249.31,275.07 L249.31,275.73 L249.53,273.22 L249.91,276.14 L250.00,277.48 L250.38,273.76 L250.76,277.65 L250.78,276.26 L251.16,273.82 L251.54,275.85 L251.54,278.30 L251.76,274.85 L252.14,277.81 L252.14,277.77 L252.51,275.40 L252.89,278.21 L252.89,276.67 L253.22,274.70 L253.60,275.67 L253.61,278.28 L253.99,275.37 L254.37,278.04 L254.37,276.89 L254.56,275.73 L254.94,277.45 L254.94,278.07 L255.25,275.86 L255.63,277.92 L255.63,277.92 L255.91,275.90 L256.29,278.09 L258.03,278.11 L258.41,276.23 L258.79,278.08 L258.79,278.22 L259.13,275.94 L259.51,277.86 L259.51,277.20 L259.74,274.73 L260.12,276.91 L260.16,277.70 L260.54,275.00 L260.92,277.83 L261.00,275.03 L261.38,273.52 L261.76,274.97 L261.78,277.76 L262.16,272.03 L262.54,278.25 L262.56,278.27 L262.94,272.34 L263.32,277.99 L263.36,277.94 L263.74,269.84 L264.12,277.12 L264.16,270.20 L264.54,268.06 L264.92,271.77 L266.93,277.89 L267.31,270.12 L267.69,277.02 L267.69,276.86 L267.90,267.04 L268.28,278.25 L268.28,277.17 L268.66,264.36 L269.04,276.34 L269.04,267.52 L269.28,263.53 L269.66,268.65 L269.66,275.86 L270.04,264.17 L270.42,277.91 L270.42,278.28 L270.61,262.49 L270.99,276.87 L270.99,277.21 L271.20,266.60 L271.58,275.92 L271.58,272.14 L271.75,267.47 L272.13,271.46 L272.18,273.81 L272.56,269.85 L272.94,273.79 L272.94,278.21 L273.25,267.89 L273.63,276.88 L275.08,277.10 L275.46,270.14 L275.84,277.33 L275.84,277.50 L276.10,272.89 L276.48,277.63 L276.56,275.49 L276.94,271.50 L277.32,274.99 L277.32,272.04 L277.49,268.84 L277.87,273.66 L277.87,277.68 L278.25,269.24 L278.63,276.95 L278.65,277.29 L279.03,269.25 L279.41,276.97 L279.41,277.80 L279.64,269.52 L280.02,278.29 L280.02,273.23 L280.32,269.33 L280.70,275.48 L282.08,277.01 L282.46,263.92 L282.84,277.00 L283.72,277.25 L284.10,257.14 L284.48,275.63 L284.48,277.74 L284.70,256.58 L285.08,275.13 L285.22,273.09 L285.60,240.30 L285.98,277.88 L288.51,269.07 L288.89,255.16 L289.27,260.58 L289.27,276.68 L289.52,253.46 L289.90,276.23 L290.62,271.44 L291.00,229.30 L291.38,277.58 L291.97,260.17 L292.35,245.85 L292.73,267.55 L292.73,276.40 L293.08,250.02 L293.46,275.18 L293.46,259.96 L293.84,249.28 L294.22,258.07 L294.22,277.10 L294.60,233.90 L294.98,273.22 L295.49,275.04 L295.87,251.16 L296.25,278.15 L296.25,259.14 L296.45,253.32 L296.83,259.63 L298.69,275.38 L299.07,240.99 L299.45,274.25 L299.45,277.83 L299.80,223.30 L300.18,270.56 L300.55,260.37 L300.93,247.49 L301.31,259.35 L301.39,253.99 L301.77,245.23 L302.15,261.80 L302.15,274.96 L302.50,248.66 L302.88,276.81 L302.88,277.33 L303.19,251.99 L303.57,274.58 L303.65,275.81 L304.03,259.10 L304.41,276.15 L304.50,277.08 L304.88,268.69 L305.26,277.32 L305.26,277.29 L305.60,268.82 L305.98,278.17 L305.98,275.55 L306.26,271.78 L306.64,275.08 L306.64,273.89 L306.87,271.33 L307.25,272.90 L307.25,275.59 L307.46,273.25 L307.84,276.67 L307.84,276.07 L308.11,273.98 L308.49,276.80 L308.49,278.13 L308.78,272.28 L309.16,277.49 L311.24,277.82 L311.62,270.43 L312.00,277.81 L312.00,277.60 L312.27,270.48 L312.65,278.15 L312.65,277.90 L313.02,272.32 L313.40,277.43 L313.40,278.10 L313.71,271.76 L314.09,278.23 L314.09,277.72 L314.30,273.27 L314.68,278.07 L314.68,278.20 L315.02,270.32 L315.40,278.23 L315.40,278.30 L315.74,271.28 L316.12,278.12 L316.16,273.75 L316.54,271.39 L316.92,276.04 L317.83,272.49 L318.21,269.11 L318.59,272.45 L318.59,276.43 L318.80,265.21 L319.18,277.27 L319.18,276.51 L319.41,262.62 L319.79,277.24 L319.79,278.11 L320.10,265.44 L320.48,277.84 L320.48,277.76 L320.66,268.49 L321.04,277.03 L321.04,276.98 L321.35,269.61 L321.73,277.37 L323.44,278.20 L323.82,275.16 L324.20,277.93 L324.23,277.83 L324.61,274.20 L324.99,278.30 L324.99,277.89 L325.25,274.50 L325.63,277.72 L325.63,275.07 L325.87,274.15 L326.25,276.54 L326.28,277.86 L326.66,273.78 L327.04,278.19 L327.04,277.86 L327.35,274.48 L327.73,277.66 L327.73,277.84 L328.07,275.18 L328.45,277.78 L328.45,278.21 L328.69,275.08 L329.07,277.76 L329.07,276.23 L329.44,274.31 L329.82,276.42 L329.82,278.14 L330.16,274.40 L330.54,278.13 L330.57,276.83 L330.95,275.56 L331.33,277.17 L331.33,277.98 L331.64,275.15 L332.02,277.68 L332.02,275.55 L332.22,273.88 L332.60,275.62 L332.60,275.21 L332.83,274.29 L333.21,276.33 L333.21,277.44 L333.57,273.24 L333.95,278.08 L333.95,277.82 L334.26,273.50 L334.64,277.82 L334.64,277.51 L334.94,270.31 L335.32,277.40 L335.32,277.36 L335.57,271.56 L335.95,277.25 L335.95,274.71 L336.27,270.96 L336.65,274.83 L336.65,278.09 L336.98,270.42 L337.36,276.89 L337.36,278.10 L337.68,271.10 L338.06,277.51 L338.11,277.65 L338.49,273.31 L338.87,277.27 L338.87,278.10 L339.10,272.77 L339.48,277.44 L339.48,278.20 L339.69,273.41 L340.07,277.99 L340.07,278.11 L340.43,273.96 L340.81,277.90 L340.81,278.09 L341.11,274.59 L341.49,278.15 L341.49,278.10 L341.77,275.09 L342.15,278.24 L342.15,278.15 L342.48,275.07 L342.86,278.03 L342.90,278.02 L343.28,275.12 L343.66,278.07 L343.66,275.49 L343.89,274.39 L344.27,275.34 L344.27,276.11 L344.56,274.65 L344.94,275.52 L344.94,278.29 L345.29,274.98 L345.67,278.18 L345.67,278.09 L345.87,275.45 L346.25,277.92 L347.30,278.15 L347.68,275.71 L348.06,277.93 L348.06,278.09 L348.28,276.61 L348.66,277.94 L348.66,277.39 L348.98,275.73 L349.36,276.47 L349.36,278.02 L349.53,275.71 L349.91,277.96 L349.97,277.94 L350.35,276.18 L350.73,278.10 L350.77,278.00 L351.15,276.45 L351.53,278.03 L351.53,277.52 L351.77,274.50 L352.15,278.14 L352.15,277.29 L352.40,269.48 L352.78,276.84 L352.85,275.63 L353.23,258.97 L353.61,276.42 L355.57,272.49 L355.95,228.78 L356.33,274.03 L357.22,233.35 L357.60,202.30 L357.98,238.22 L357.98,272.18 L358.35,228.77 L358.73,274.12 L358.73,261.33 L359.08,234.39 L359.46,244.94 L359.51,273.98 L359.89,232.30 L360.27,271.18 L360.27,272.34 L360.46,236.58 L360.84,272.25 L360.84,263.49 L361.03,244.37 L361.41,252.76 L361.41,259.20 L361.62,250.28 L362.00,257.54 L362.00,263.26 L362.36,256.04 L362.74,266.48 L362.79,270.96 L363.17,265.77 L363.55,270.38 L364.61,277.34 L364.99,267.72 L365.37,278.27 L365.37,276.92 L365.66,266.89 L366.04,276.66 L366.11,274.15 L366.49,266.85 L366.87,269.51 L366.95,273.44 L367.33,266.42 L367.71,272.46 L367.71,272.97 L368.02,268.75 L368.40,272.17 L368.48,273.36 L368.86,270.32 L369.24,274.11 L369.24,276.76 L369.55,266.10 L369.93,276.66 L369.93,276.52 L370.23,263.74 L370.61,277.93 L370.69,277.38 L371.07,266.58 L371.45,277.72 L371.45,276.83 L371.66,265.76 L372.04,277.33 L372.04,278.05 L372.36,268.22 L372.74,277.60 L372.80,270.96 L373.18,267.48 L373.56,274.33 L375.72,276.72 L376.10,267.69 L376.48,276.93 L377.33,270.28 L377.71,266.95 L378.09,270.66 L378.09,269.98 L378.41,267.23 L378.79,274.33 L381.00,276.86 L381.38,259.94 L381.76,277.49 L381.83,276.47 L382.21,259.21 L382.59,276.44 L382.59,274.06 L382.87,256.48 L383.25,274.06 L383.32,277.17 L383.70,248.76 L384.08,273.54 L384.08,275.77 L384.46,257.32 L384.84,274.94 L384.88,272.07 L385.26,262.72 L385.64,268.03 L385.64,278.29 L385.98,267.62 L386.36,277.35 L386.41,276.67 L386.79,267.83 L387.17,277.18 L387.17,277.57 L387.53,269.07 L387.91,277.67 L387.91,276.01 L388.26,272.98 L388.64,275.77 L388.64,277.68 L388.85,271.28 L389.23,277.14 L389.23,273.91 L389.53,267.69 L389.91,274.94 L389.91,268.35 L390.29,264.22 L390.67,271.20 L390.67,276.13 L391.00,262.73 L391.38,275.92 L391.38,277.88 L391.57,254.11 L391.95,276.92 L391.95,275.59 L392.19,247.12 L392.57,276.40 L393.02,275.30 L393.40,220.30 L393.78,273.04 L394.03,266.06 L394.41,239.98 L394.79,249.68 L394.79,274.90 L395.03,242.25 L395.41,275.62 L395.41,269.54 L395.75,251.73 L396.13,270.31 L396.13,276.20 L396.32,259.30 L396.70,276.97 L396.70,276.25 L396.91,261.29 L397.29,277.27 L397.30,277.97 L397.68,264.65 L398.06,276.85 L398.06,278.12 L398.25,267.77 L398.63,276.61 L400.78,277.81 L401.16,268.69 L401.54,278.05 L401.54,277.59 L401.83,268.64 L402.21,276.84 L403.62,278.29 L404.00,266.90 L404.38,277.41 L404.38,271.82 L404.55,267.33 L404.93,271.20 L404.93,277.81 L405.30,262.68 L405.68,278.27 L405.71,270.51 L406.09,258.36 L406.47,263.50 L406.47,275.13 L406.71,253.95 L407.09,278.24 L408.22,277.81 L408.60,235.30 L408.98,277.44 L409.16,254.72 L409.54,245.48 L409.92,260.62 L409.93,276.79 L410.31,253.97 L410.69,275.18 L410.69,275.26 L410.95,258.15 L411.33,274.90 L411.33,271.41 L411.58,260.37 L411.96,264.13 L411.96,275.85 L412.19,265.57 L412.57,276.52 L412.57,272.15 L412.88,267.73 L413.26,270.38 L413.26,276.84 L413.43,267.08 L413.81,276.55 L413.81,273.63 L413.99,265.74 L414.37,270.20 L414.37,277.65 L414.57,266.33 L414.95,277.59 L415.01,277.81 L415.39,268.92 L415.77,277.89 L415.77,277.57 L416.09,271.29 L416.47,277.21 L416.47,275.43 L416.64,271.10 L417.02,275.47 L417.02,277.11 L417.29,269.42 L417.67,277.77 L417.67,277.44 L418.03,269.14 L418.41,277.74 L419.99,273.89 L420.37,269.44 L420.75,272.61 L420.75,278.04 L421.03,270.69 L421.41,278.01 L421.42,277.25 L421.80,268.25 L422.18,277.96 L423.62,277.41 L424.00,255.30 L424.38,275.45 L426.15,275.48 L426.53,269.16 L426.91,275.05 L428.16,268.04 L428.54,260.76 L428.92,270.86 L430.09,276.38 L430.47,249.15 L430.85,276.29 L430.85,276.09 L431.16,243.36 L431.54,276.44 L431.54,274.97 L431.73,236.99 L432.11,274.03 L432.11,271.80 L432.47,233.11 L432.85,274.19 L432.85,276.22 L433.03,241.07 L433.41,272.68 L435.15,275.66 L435.53,252.71 L435.91,277.28 L436.75,277.55 L437.13,264.11 L437.51,277.24 L437.51,276.55 L437.79,265.12 L438.17,276.38 L438.17,277.56 L438.35,268.44 L438.73,277.61 L438.73,272.05 L438.99,269.84 L439.37,275.66 L439.37,277.84 L439.54,272.90 L439.92,277.19 L439.92,274.87 L440.09,269.72 L440.47,272.55 L440.53,278.17 L440.91,271.08 L441.29,277.97 L442.99,275.15 L443.37,274.30 L443.75,275.47 L443.82,277.72 L444.20,274.52 L444.58,278.10 L444.58,277.76 L444.81,275.43 L445.19,278.09 L445.20,278.07 L445.58,275.02 L445.96,278.29 L445.96,276.42 L446.29,275.13 L446.67,276.02 L446.72,278.24 L447.10,275.28 L447.48,278.20 L447.48,276.70 L447.84,276.29 L448.22,277.66 L448.29,276.56 L448.67,276.06 L449.05,276.80 L449.05,278.20 L449.42,275.71 L449.80,278.10 L449.80,276.99 L449.99,276.59 L450.37,277.78 L450.43,277.33 L450.81,276.45 L451.19,277.35 L451.19,277.97 L451.39,275.70 L451.77,278.06 L451.77,277.92 L452.09,275.86 L452.47,278.19 L452.47,278.14 L452.78,276.47 L453.16,278.07 L453.16,278.15 L453.40,275.58 L453.78,278.25 L453.78,277.80 L454.11,274.48 L454.49,277.82 L454.52,278.23 L454.90,274.24 L455.28,277.75 L455.28,277.93 L455.55,273.82 L455.93,277.66 L455.93,277.93 L456.25,273.54 L456.63,277.91 L456.69,275.33 L457.07,273.63 L457.45,275.07 L457.52,277.59 L457.90,272.62 L458.28,277.78 L458.28,277.45 L458.59,272.31 L458.97,278.26 L459.03,278.05 L459.41,272.94 L459.79,277.54 L459.79,273.70 L460.07,270.48 L460.45,274.23 L460.52,272.67 L460.90,268.28 L461.28,273.94 L461.28,277.51 L461.57,269.78 L461.95,276.67 L461.95,277.78 L462.28,269.10 L462.66,278.08 L462.71,273.63 L463.09,267.36 L463.47,270.58 L463.47,277.13 L463.66,268.03 L464.04,277.06 L464.10,277.42 L464.48,268.34 L464.86,276.78 L464.86,276.41 L465.11,268.00 L465.49,278.19 L467.17,276.31 L467.55,259.34 L467.93,275.42 L467.93,269.31 L468.21,257.57 L468.59,265.66 L468.59,276.63 L468.95,255.79 L469.33,276.54 L470.02,273.59 L470.40,236.30 L470.78,274.30 L470.80,276.08 L471.18,251.20 L471.56,275.02 L471.63,257.16 L472.01,251.41 L472.39,269.36 L472.39,267.49 L472.62,258.03 L473.00,268.75 L473.00,277.40 L473.20,262.06 L473.58,276.36 L473.58,278.06 L473.92,261.29 L474.30,277.68 L475.15,277.51 L475.53,265.74 L475.91,276.71 L477.39,277.21 L477.77,269.84 L478.15,278.18 L479.15,273.88 L479.53,268.43 L479.91,270.69 L479.91,276.83 L480.21,267.58 L480.59,277.97 L480.59,270.94 L480.87,268.88 L481.25,270.86 L481.32,278.20 L481.70,267.23 L482.08,277.01 L482.16,268.39 L482.54,263.02 L482.92,268.84 L482.92,276.86 L483.27,265.53 L483.65,276.12 L483.65,273.84 L484.03,266.74 L484.41,273.10 L484.43,277.68 L484.81,267.98 L485.19,278.16 L485.19,277.16 L485.53,270.39 L485.91,277.66 L487.87,277.47 L488.25,273.59 L488.63,277.35 L488.63,277.44 L488.99,273.07 L489.37,278.13 L489.37,278.24 L489.59,274.41 L489.97,278.19 L489.97,277.94 L490.25,273.42 L490.63,277.61 L490.71,277.72 L491.09,274.05 L491.47,277.85 L491.47,276.31 L491.76,274.95 L492.14,276.58 L492.14,278.18 L492.42,274.48 L492.80,278.14 L492.80,276.60 L493.14,275.78 L493.52,276.31 L493.52,277.19 L493.70,275.55 L494.08,276.82 L494.08,277.97 L494.36,275.25 L494.74,278.13 L494.74,277.02 L495.07,276.03 L495.45,277.04 L495.45,277.74 L495.72,276.46 L496.10,277.49 L496.10,276.80 L496.42,276.12 L496.80,277.08 L496.80,278.20 L496.97,276.47 L497.35,278.10 L497.35,277.12 L497.59,276.23 L497.97,276.77 L497.97,276.52 L498.23,275.97 L498.61,276.83 L498.68,278.24 L499.06,275.99 L499.44,278.30 L499.44,277.30 L499.70,276.35 L500.08,277.61 L500.08,277.44 L500.27,276.42 L500.65,277.49 L500.65,276.71 L500.88,275.87 L501.26,276.86 L501.26,277.95 L501.64,275.73 L502.02,278.28 L502.03,277.15 L502.41,275.80 L502.79,277.51 L502.79,278.15 L503.01,276.13 L503.39,277.94 L503.39,277.49 L503.69,276.01 L504.07,276.48 L504.07,278.19 L504.39,276.07 L504.77,278.09 L504.83,277.29 L505.21,276.32 L505.59,276.91 L505.63,277.52 L506.01,275.87 L506.39,277.15 L506.39,276.70 L506.77,276.26 L507.15,276.72 L507.15,277.94 L507.33,276.07 L507.71,277.92 L507.71,278.26 L508.01,276.07 L508.39,278.17 L508.39,278.03 L508.56,276.58 L508.94,278.22 L508.94,278.01 L509.20,275.77 L509.58,278.03 L509.58,278.11 L509.96,276.65 L510.34,278.09 L510.34,278.00 L510.59,276.28 L510.97,278.06 L511.01,278.07 L511.39,276.48 L511.77,278.24 L511.85,277.94 L512.23,275.73 L512.61,278.21 L512.61,278.20 L512.85,275.79 L513.23,278.23 L513.23,277.40 L513.50,275.85 L513.88,276.76 L513.88,278.24 L514.19,275.77 L514.57,278.08 L514.57,278.14 L514.92,275.72 L515.30,278.14 L515.30,278.06 L515.57,276.72 L515.95,278.29 L516.02,278.30 L516.40,275.81 L516.78,278.00 L518.95,278.20 L519.33,276.58 L519.71,277.96 L519.71,278.15 L520.05,275.83 L520.43,278.29 L520.43,276.50 L520.69,275.74 L521.07,277.26 L521.07,278.19 L521.45,276.45 L521.83,278.27 L521.83,277.59 L522.05,276.43 L522.43,277.47 L522.45,277.97 L522.83,276.15 L523.21,278.17 L523.27,276.54 L523.65,273.84 L524.03,276.95 L524.03,277.86 L524.35,273.25 L524.73,277.20 L524.73,277.41 L525.00,267.66 L525.38,278.29 L525.38,276.50 L525.56,264.73 L525.94,278.13 L525.94,277.18 L526.25,261.94 L526.63,278.02 L526.71,276.69 L527.09,257.52 L527.47,276.47 L527.47,274.89 L527.68,246.54 L528.06,277.78 L528.06,274.79 L528.26,248.87 L528.64,274.06 L528.71,263.21 L529.09,245.75 L529.47,257.54 L529.47,254.76 L529.65,238.99 L530.03,248.68 L530.10,260.87 L530.48,232.30 L530.86,259.84 L531.22,274.21 L531.60,225.30 L531.98,277.16 L532.19,275.18 L532.57,232.76 L532.95,277.10 L532.95,274.19 L533.13,245.35 L533.51,274.57 L535.46,277.64 L535.84,264.08 L536.22,278.13 L537.62,277.23 L538.00,271.52 L538.38,277.57 L538.38,278.21 L538.63,271.67 L539.01,277.32 L539.01,277.40 L539.33,272.70 L539.71,278.18 L539.71,276.22 L540.06,273.74 L540.44,275.51 L540.48,277.47 L540.86,271.98 L541.24,277.98 L541.24,277.63 L541.54,269.99 L541.92,278.28" fill="none" stroke="#ef1a22" stroke-width="1.2" stroke-linejoin="bevel"/>
<line x1="38.6" y1="277.9" x2="543" y2="277.9" stroke="#ef1a22" stroke-width="1.3"/>
<text x="42.2" y="302.3" font-size="13" text-anchor="middle" font-family="Liberation Serif, serif" font-weight="bold" fill="#222" >0</text>
<text x="133.7" y="302.3" font-size="13" text-anchor="middle" font-family="Liberation Serif, serif" font-weight="bold" fill="#222" >1</text>
<text x="225.2" y="302.3" font-size="13" text-anchor="middle" font-family="Liberation Serif, serif" font-weight="bold" fill="#222" >2</text>
<text x="316.7" y="302.3" font-size="13" text-anchor="middle" font-family="Liberation Serif, serif" font-weight="bold" fill="#222" >3</text>
<text x="408.2" y="302.3" font-size="13" text-anchor="middle" font-family="Liberation Serif, serif" font-weight="bold" fill="#222" >4</text>
<text x="499.7" y="302.3" font-size="13" text-anchor="middle" font-family="Liberation Serif, serif" font-weight="bold" fill="#222" >5</text>
<text x="31.5" y="47.6" font-size="13.3" text-anchor="middle" font-family="Liberation Serif, serif" font-weight="bold" fill="#222" >6</text>
<text x="31.7" y="131.6" font-size="13.3" text-anchor="middle" font-family="Liberation Serif, serif" font-weight="bold" fill="#222" >4</text>
<text x="31.7" y="214.4" font-size="13.3" text-anchor="middle" font-family="Liberation Serif, serif" font-weight="bold" fill="#222" >2</text>
<text x="31.3" y="277.4" font-size="13.3" text-anchor="middle" font-family="Liberation Serif, serif" font-weight="bold" fill="#222" >0</text>
<text x="277.1" y="322.7" font-size="13.2" text-anchor="start" font-family="Liberation Serif, serif" font-weight="bold" fill="#222"  textLength="43.3" lengthAdjust="spacingAndGlyphs">Time(s)</text>
<g transform="translate(18,225.5) rotate(-90)"><text x="0.0" y="0.0" font-size="13.5" text-anchor="start" font-family="Liberation Serif, serif" font-weight="bold" fill="#222"  textLength="113.2" lengthAdjust="spacingAndGlyphs">Contour error(mm)</text></g>
<path d="M42,21 L53.3,33.5 M53.3,21 L42,33.5" stroke="#222" stroke-width="1.4" fill="none"/>
<text x="66.9" y="31.4" font-size="13.5" text-anchor="start" font-family="Liberation Serif, serif" font-weight="bold" fill="#222"  textLength="12.6" lengthAdjust="spacingAndGlyphs">10</text>
<text x="84.8" y="19.2" font-size="13" text-anchor="start" font-family="Liberation Serif, serif" font-weight="bold" fill="#222" >-1</text>
<line x1="133.1" y1="22.4" x2="176.3" y2="22.4" stroke="#0568b8" stroke-width="1.2"/>
<line x1="308.2" y1="22.4" x2="351.7" y2="22.4" stroke="#ec111b" stroke-width="1.2"/>
<text x="184.4" y="14.8" font-size="12" text-anchor="start" font-family="Liberation Serif, serif" font-weight="bold" fill="#222"  textLength="106.9" lengthAdjust="spacingAndGlyphs">Contour error before</text>
<text x="202.9" y="27.9" font-size="12" text-anchor="start" font-family="Liberation Serif, serif" font-weight="bold" fill="#222"  textLength="68.3" lengthAdjust="spacingAndGlyphs">compensation</text>
<text x="354.6" y="14.8" font-size="12" text-anchor="start" font-family="Liberation Serif, serif" font-weight="bold" fill="#222"  textLength="98.5" lengthAdjust="spacingAndGlyphs">Contour error after</text>
<text x="369.7" y="27.9" font-size="12" text-anchor="start" font-family="Liberation Serif, serif" font-weight="bold" fill="#222"  textLength="67.0" lengthAdjust="spacingAndGlyphs">compensation</text>
</svg>
</body></html>
